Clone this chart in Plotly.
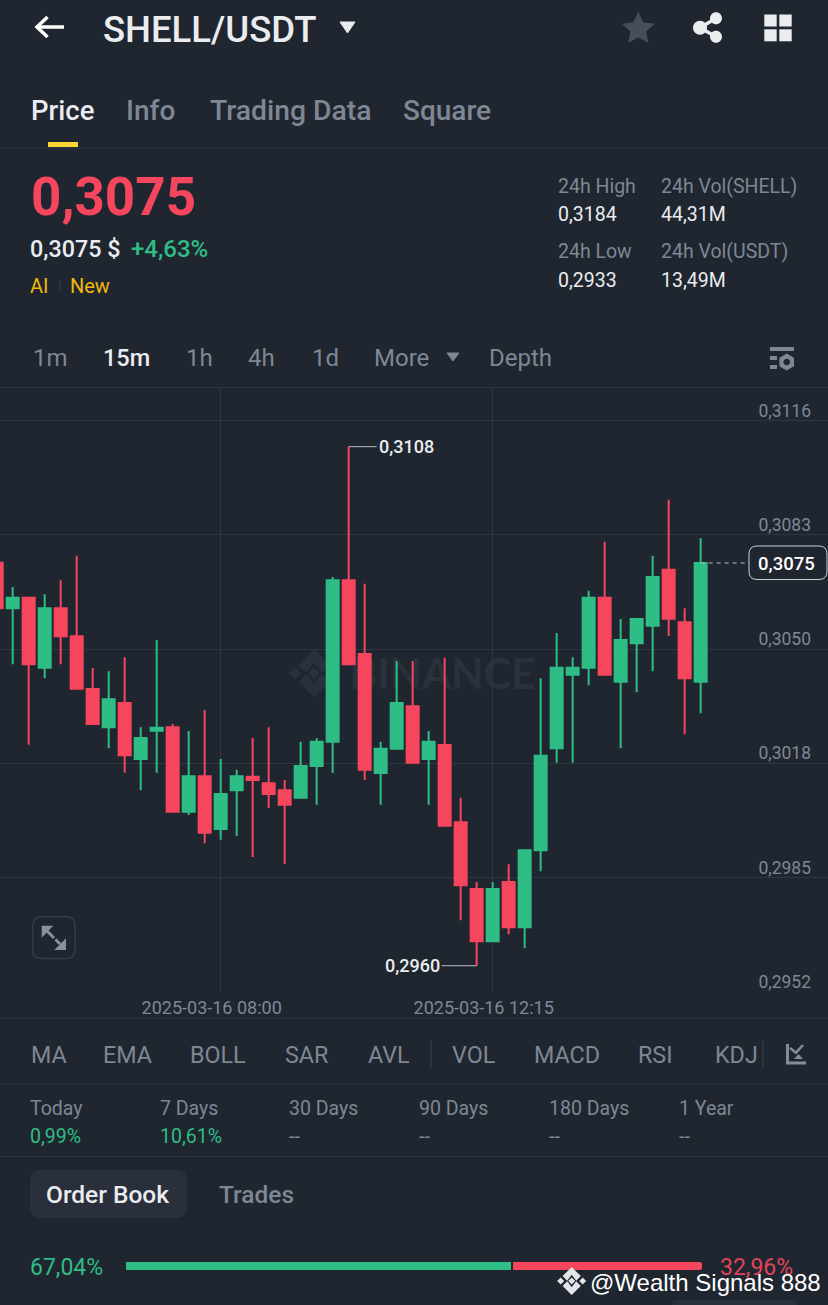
import math, re
import pandas as pd
import plotly.graph_objects as go

# ---------- data ----------
opens = [.307519,.306210,.306514,.304505,.306210,.305406,.303894,.302794,.303492,.301885,.302697,.302794,.300372,.301388,.299876,.300986,.301377,.301187,.300986,.300774,.301684,.302381,.307013,.304898,.301483,.302180,.303397,.301885,.302286,.300068,.298154,.296653,.298355,.297054,.299264,.302192,.304304,.304505,.306514,.304103,.305205,.305710,.307318,.305808,.304103]
highs = [.307519,.306821,.306514,.306612,.307013,.307719,.304496,.304402,.304803,.302794,.305300,.302889,.302688,.303291,.301885,.301578,.302487,.302794,.301282,.302381,.302479,.307108,.310848,.306916,.302381,.304697,.304697,.302688,.304792,.300774,.298355,.298355,.298863,.299264,.304201,.305501,.304803,.306715,.308121,.305903,.305903,.307719,.309327,.306210,.308219]
lows = [.306210,.304603,.302295,.304201,.304603,.303902,.302889,.302192,.301492,.300986,.301492,.300372,.300277,.299465,.299569,.299675,.299072,.300478,.298871,.300774,.300573,.301483,.304603,.301282,.300573,.302180,.301779,.300573,.299970,.297255,.295952,.296653,.296854,.296452,.298662,.301779,.301779,.304000,.304304,.302192,.303799,.304402,.305415,.302594,.303196]
closes = [.306210,.306514,.304603,.306210,.305406,.303902,.302889,.303598,.301991,.302487,.302783,.300372,.301388,.299770,.300880,.301388,.301282,.300880,.300573,.301684,.302381,.307013,.304603,.301578,.302180,.303492,.301779,.302381,.299970,.298260,.296653,.298154,.297054,.299264,.301979,.304505,.304505,.306514,.304304,.305300,.305903,.307108,.305911,.304201,.307510]
times = pd.date_range("2025-03-16 04:30", periods=len(opens), freq="15min")

price_ticks = [0.3116, 0.30832, 0.30504, 0.30176, 0.29848, 0.2952]
price_labels = ["0,3116", "0,3083", "0,3050", "0,3018", "0,2985", "0,2952"]
time_ticks = ["2025-03-16 08:00", "2025-03-16 12:15"]
buy_share = [67.04]
sell_share = [32.96]
last_price = 0.30751
high_label = "0,3108"
low_label = "0,2960"

# ---------- style ----------
W, H = 828, 1305
BG = "#1f2630"
RED = "#f6465d"
GREEN = "#2ebd85"
GREY = "#7f8794"
WHITE = "#eaecef"
LINE = "#2f3640"
FONT = "Roboto"

def px(x): return x / W
def py(y): return 1 - y / H

def path(s):
    toks = s.split()
    out, i = [], 0
    for t in toks:
        if re.fullmatch(r"-?[\d.]+", t):
            out.append(f"{px(float(t)):.5f}" if i % 2 == 0 else f"{py(float(t)):.5f}")
            i += 1
        else:
            out.append(t)
            i = 0
    return " ".join(out)

def rrect(x0, y0, x1, y1, r):
    return (f"M {x0+r} {y0} L {x1-r} {y0} Q {x1} {y0} {x1} {y0+r} L {x1} {y1-r} Q {x1} {y1} {x1-r} {y1} "
            f"L {x0+r} {y1} Q {x0} {y1} {x0} {y1-r} L {x0} {y0+r} Q {x0} {y0} {x0+r} {y0} Z")

shapes, annos = [], []

def shp(d, fill=None, line=None, w=0, layer="above"):
    shapes.append(dict(type="path", xref="paper", yref="paper", path=path(d), layer=layer,
                       fillcolor=fill if fill else "rgba(0,0,0,0)",
                       line=dict(color=line if line else "rgba(0,0,0,0)", width=w)))

def hline(y, x0=0, x1=W, c=LINE, w=1):
    shp(f"M {x0} {y} L {x1} {y}", line=c, w=w)

def circ(cx, cy, r, fill):
    k = 0.5523 * r
    shp(f"M {cx-r} {cy} C {cx-r} {cy-k} {cx-k} {cy-r} {cx} {cy-r} C {cx+k} {cy-r} {cx+r} {cy-k} {cx+r} {cy} "
        f"C {cx+r} {cy+k} {cx+k} {cy+r} {cx} {cy+r} C {cx-k} {cy+r} {cx-r} {cy+k} {cx-r} {cy} Z", fill=fill)

def diamond(cx, cy, r, fill, layer="above"):
    shp(f"M {cx} {cy-r} L {cx+r} {cy} L {cx} {cy+r} L {cx-r} {cy} Z", fill=fill, layer=layer)

def logo(cx, cy, s, fill, layer="above"):
    """Exchange logo: s is the half size of its small diamonds."""
    diamond(cx, cy, s, fill, layer)
    diamond(cx - 3.15 * s, cy, s, fill, layer)
    diamond(cx + 3.15 * s, cy, s, fill, layer)
    a, b, c, d = 4 * s, 2.6 * s, 1.0 * s, 2.3 * s
    for sg in (-1, 1):
        shp(f"M {cx} {cy+sg*a} L {cx+b} {cy+sg*(a-b)} L {cx+b-d/1.75} {cy+sg*(a-b-d/1.75)} L {cx} {cy+sg*(a-d+c*0.1)} "
            f"L {cx-b+d/1.75} {cy+sg*(a-b-d/1.75)} L {cx-b} {cy+sg*(a-b)} Z", fill=fill, layer=layer)

def txt(x, y, t, size, color=GREY, weight=400, anchor="left", family=FONT):
    if anchor == "left":
        x -= 1.2
    annos.append(dict(xref="paper", yref="paper", x=px(x), y=py(y), text=t, showarrow=False,
                      xanchor=anchor, yanchor="middle", borderpad=0,
                      font=dict(family=family, size=size, color=color, weight=weight)))

# header
shp("M 37 27 L 64 27", line="#ffffff", w=3.5)
shp("M 47.5 17 L 37 27 L 47.5 37", line="#ffffff", w=3.5)
txt(103, 29, "SHELL/USDT", 36.5, WHITE, 500)
shp("M 340 22 L 355 22 L 347.5 33 Z", fill=WHITE, line=WHITE, w=1)
pts = []
for i in range(10):
    r = 15.5 if i % 2 == 0 else 7.5
    a = -math.pi / 2 + i * math.pi / 5
    pts.append((638.3 + r * math.cos(a), 29 + r * math.sin(a)))
shp("M " + " L ".join(f"{a:.1f} {b:.1f}" for a, b in pts) + " Z", fill="#474d5a", line="#474d5a", w=1.5)
shp("M 700 27.7 L 716 18.3 M 700 27.7 L 716 36.7", line=WHITE, w=3.5)
circ(700, 27.7, 7, WHITE); circ(716, 18.3, 6, WHITE); circ(716, 36.7, 6, WHITE)
for a, b in [(764.3, 14.5), (779.3, 14.5), (764.3, 29.3), (779.3, 29.3)]:
    shp(f"M {a} {b} L {a+12.4} {b} L {a+12.4} {b+12} L {a} {b+12} Z", fill=WHITE)

# tabs
txt(31, 111, "Price", 27.5, WHITE, 500)
txt(126, 111, "Info", 28, GREY, 500)
txt(210, 111, "Trading Data", 28.3, GREY, 500)
txt(403, 111, "Square", 28, GREY, 500)
shp("M 48 142 L 78 142 L 78 147 L 48 147 Z", fill="#fcd535")
hline(148)

# price block
txt(31, 197, "0,3075", 53, RED, 700)
txt(30, 249, "0,3075 $", 23.3, WHITE, 500)
txt(131, 249, "+4,63%", 24, GREEN, 500)
txt(30, 286, "AI", 20, "#f0b90b", 400)
shp("M 60 281 L 60 291", line="#3a404a", w=1)
txt(70, 286, "New", 20, "#f0b90b", 400)
txt(558, 186, "24h High", 19.5)
txt(661, 186, "24h Vol(SHELL)", 19.5)
txt(558, 214, "0,3184", 19.5, WHITE)
txt(661, 214, "44,31M", 19.5, WHITE)
txt(558, 252, "24h Low", 19.5)
txt(661, 252, "24h Vol(USDT)", 19.5)
txt(558, 280, "0,2933", 19.5, WHITE)
txt(661, 280, "13,49M", 19.5, WHITE)

# interval row
for x, t in [(33, "1m"), (186, "1h"), (248, "4h"), (312, "1d"), (374, "More"), (489, "Depth")]:
    txt(x, 358.5, t, 24)
txt(103, 358.5, "15m", 23.5, WHITE, 500)
shp("M 447 353 L 459 353 L 453 361 Z", fill=GREY, line=GREY, w=1)
shp("M 770 347 L 794 347 L 794 351 L 770 351 Z", fill=GREY)
shp("M 770 356 L 777 356 L 777 360 L 770 360 Z M 770 365 L 777 365 L 777 369 L 770 369 Z", fill=GREY)
shp("M 786.7 353.5 L 794 357.75 L 794 366.25 L 786.7 370.5 L 779.4 366.25 L 779.4 357.75 Z", fill=GREY)
circ(786.7, 362, 3.3, BG)
hline(387.5)

# chart furniture
shp(rrect(32.7, 916.7, 75, 958.5, 9), fill="rgba(0,0,0,0)", line="#363c47", w=1.5)
shp("M 47 931 L 54 938", line="#8a909c", w=3)
shp("M 60 944 L 55.5 939.5", line="#8a909c", w=3)
shp("M 41.7 925.7 L 53.3 925.7 L 41.7 937.7 Z M 66 950 L 66 938.3 L 54.3 950 Z", fill="#8a909c")
# watermark, under the candles
logo(314, 673.3, 6, "#2a313c", layer="between")
shapes.append(dict(type="rect", xref="paper", yref="paper", x0=px(345), x1=px(540), y0=py(693), y1=py(650),
                   layer="between", line=dict(width=0), fillcolor="rgba(0,0,0,0)",
                   label=dict(text="BINANCE", textposition="middle center",
                              font=dict(family="Lato", size=42, color="#2a313c", weight=700))))

# last price tag
shapes.append(dict(type="line", xref="x", yref="y", x0=times[-1], x1="2025-03-16 16:24", y0=last_price, y1=last_price,
                   line=dict(color="#b7bdc6", width=1, dash="4px,4px"), layer="above"))
shp(rrect(749, 546, 827, 579.5, 8), fill=BG, line="#c9ced6", w=1)
txt(786.5, 564, "0,3075", 18.5, "#ffffff", 500, "center")

# bottom blocks
hline(1018)
for x, t in [(31, "MA"), (103, "EMA"), (190, "BOLL"), (285, "SAR"), (368, "AVL"), (452, "VOL"), (534, "MACD"), (638, "RSI"), (715, "KDJ")]:
    txt(x, 1054.5, t, 23.3)
shp("M 431 1040 L 431 1069", line="#3a404a", w=1)
shp("M 763 1040 L 763 1069", line="#3a404a", w=1)
shp("M 787.5 1044 L 787.5 1063 L 806 1063", line="#858b97", w=3)
shp("M 790 1048 L 796 1052.7 L 803 1045", line="#858b97", w=2.5)
shp("M 798.5 1054 L 803 1059 L 794 1059 Z", fill="#858b97")
hline(1084)
for x, t, v, c in [(30, "Today", "0,99%", GREEN), (160, "7 Days", "10,61%", GREEN), (289, "30 Days", "--", GREY),
                   (419, "90 Days", "--", GREY), (549, "180 Days", "--", GREY), (679, "1 Year", "--", GREY)]:
    txt(x, 1108, t, 19.5)
    txt(x, 1136, v, 19.5, c)
hline(1156.5)
shp(rrect(30, 1170, 187, 1218, 11), fill="#2a303b")
txt(46, 1194.5, "Order Book", 24.5, WHITE, 500)
txt(219, 1194.5, "Trades", 24.5, GREY, 500)
txt(30, 1267, "67,04%", 23, GREEN)
txt(720, 1267, "32,96%", 23, "#e0445a")
# foreign watermark
shp(rrect(672, 1300, 797, 1312, 5), fill="#2a303b")
logo(571.7, 1281, 3.5, "#e4e5e9")
txt(590, 1282, "@Wealth Signals 888", 24, "#ffffff", 400, family="Liberation Sans")

# ---------- figure ----------
fig = go.Figure()
fig.add_trace(go.Candlestick(
    x=times, open=opens, high=highs, low=lows, close=closes, xaxis="x", yaxis="y",
    whiskerwidth=0,
    increasing=dict(line=dict(color=GREEN, width=2), fillcolor=GREEN),
    decreasing=dict(line=dict(color=RED, width=2), fillcolor=RED),
    showlegend=False,
))
fig.add_trace(go.Bar(x=buy_share, y=[0], orientation="h", xaxis="x2", yaxis="y2", width=1,
                     marker=dict(color=GREEN, line=dict(width=2, color=BG)), showlegend=False))
fig.add_trace(go.Bar(x=sell_share, y=[0], orientation="h", xaxis="x2", yaxis="y2", width=1,
                     marker=dict(color=RED, line=dict(width=2, color=BG)), showlegend=False))

hi = max(range(len(highs)), key=lambda i: highs[i])
lo = min(range(len(lows)), key=lambda i: lows[i])
annos.append(dict(x=times[hi], y=highs[hi], xref="x", yref="y", text=high_label, showarrow=True,
                  ax=28, ay=0, xanchor="left", arrowhead=0, arrowwidth=1, arrowcolor="#b7bdc6",
                  font=dict(family=FONT, size=18, color=WHITE, weight=500), standoff=0))
annos.append(dict(x=times[lo], y=lows[lo], xref="x", yref="y", text=low_label, showarrow=True,
                  ax=-35, ay=0, xanchor="right", arrowhead=0, arrowwidth=1, arrowcolor="#b7bdc6",
                  font=dict(family=FONT, size=18, color=WHITE, weight=500), standoff=0))

fig.update_layout(
    width=W, height=H, margin=dict(l=0, r=0, t=0, b=0),
    paper_bgcolor=BG, plot_bgcolor=BG,
    font=dict(family=FONT),
    boxgap=0.25, boxgroupgap=0, barmode="stack", barcornerradius=4,
    showlegend=False, shapes=shapes, annotations=annos,
    xaxis=dict(domain=[0, 1], anchor="y", type="date",
               range=["2025-03-16 04:33:06", "2025-03-16 17:29:24"],
               rangeslider=dict(visible=False),
               tickvals=time_ticks, tickformat="%Y-%m-%d %H:%M",
               tickfont=dict(family=FONT, size=18, color=GREY),
               ticklabelshift=-9, ticklabelstandoff=3,
               showgrid=True, gridcolor=LINE, gridwidth=1, zeroline=False, showline=False, ticks=""),
    yaxis=dict(domain=[py(992), py(388)], anchor="x", side="right",
               range=[0.295198, 0.312532],
               tickvals=price_ticks, ticktext=price_labels,
               ticklabelposition="inside", ticklabeloverflow="allow",
               ticklabelshift=-10, ticklabelstandoff=14,
               tickfont=dict(family=FONT, size=17.5, color=GREY),
               showgrid=True, gridcolor=LINE, gridwidth=1, zeroline=False, showline=False, ticks=""),
    xaxis2=dict(domain=[px(125), px(703)], anchor="y2", range=[0, 100], visible=False),
    yaxis2=dict(domain=[py(1271), py(1261)], anchor="x2", range=[-0.5, 0.5], visible=False),
)
fig.write_html("out.html", config=dict(displayModeBar=False),
               post_script="document.body.style.margin='0';document.body.style.background='%s';" % BG)
